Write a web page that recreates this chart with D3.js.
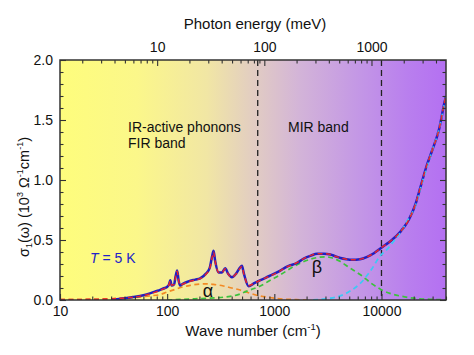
<!DOCTYPE html>
<html><head><meta charset="utf-8">
<script src="https://cdn.jsdelivr.net/npm/d3@7"></script>
<style>
html,body{margin:0;padding:0;background:#fff;}
svg text{font-family:"Liberation Sans",Arial,sans-serif;}
</style></head>
<body>
<svg id="chart" width="474" height="355"></svg>
<script>
// ---- data ----
const wnMeasured = [30,40,48,60,69,80,86,95,100,104,107,110,116,120,124,128,132,140,158,183,203,230,250,262,271,280,302,325,348,370,402,440,470,498,520,575,650,741,900,1138,1260,1413,1600,1880,2200,2506,2900,3336,3700,4140,4700,5320,6300,7350,8500,9770,10900,12500,15060,18000,20800,23100,26000,29800,34400,38800,40000];
const sigmaMeasured = [0.0,0.015,0.025,0.04,0.055,0.075,0.085,0.1,0.11,0.13,0.165,0.12,0.13,0.2,0.245,0.16,0.12,0.135,0.155,0.17,0.18,0.22,0.27,0.36,0.41,0.33,0.23,0.23,0.265,0.22,0.19,0.22,0.26,0.285,0.22,0.115,0.14,0.165,0.2,0.245,0.27,0.29,0.305,0.345,0.37,0.385,0.385,0.38,0.365,0.35,0.34,0.335,0.34,0.36,0.39,0.43,0.46,0.5,0.57,0.67,0.8,0.94,1.1,1.25,1.42,1.65,1.7];
const wnFit = [10,20,30,40,48,60,69,80,86,95,100,104,107,110,116,120,124,128,132,140,158,183,203,230,250,262,271,280,302,325,348,370,402,440,470,498,520,575,650,741,900,1138,1260,1413,1600,1880,2200,2506,2900,3336,3700,4140,4700,5320,6300,7350,8500,9770,10900,12500,15060,18000,20800,23100,26000,29800,34400,38800,40000];
const sigmaFit = [0.004,0.006,0.01,0.017,0.024,0.038,0.052,0.07,0.082,0.097,0.108,0.128,0.16,0.122,0.13,0.195,0.24,0.16,0.122,0.133,0.152,0.168,0.178,0.215,0.265,0.35,0.4,0.325,0.23,0.228,0.26,0.218,0.19,0.218,0.255,0.28,0.215,0.118,0.14,0.165,0.198,0.243,0.268,0.288,0.308,0.345,0.372,0.385,0.386,0.38,0.365,0.35,0.34,0.335,0.34,0.36,0.39,0.43,0.46,0.5,0.57,0.67,0.8,0.94,1.1,1.25,1.42,1.65,1.7];
const wnAlpha = [10,20,30,48,70,86,99,120,142,164,200,230,270,335,400,480,533,600,685,800,1000,1210,1600,2000];
const sigmaAlpha = [0.003,0.005,0.01,0.02,0.035,0.045,0.065,0.09,0.11,0.122,0.133,0.135,0.13,0.117,0.1,0.083,0.07,0.055,0.04,0.028,0.015,0.008,0.003,0.0];
const wnBeta = [100,164,250,388,480,533,600,741,900,1138,1520,2170,3000,3500,4140,5000,6370,8000,9770,12000,15000,20000,30000,40000];
const sigmaBeta = [0.0,0.008,0.016,0.03,0.05,0.068,0.085,0.117,0.16,0.21,0.28,0.34,0.36,0.35,0.32,0.27,0.21,0.14,0.09,0.055,0.033,0.015,0.005,0.002];
const wnInterband = [2300,3000,4000,5000,6370,8000,9770,11500,13000,15000,17400,20800,23100,26000,29800,34400,38800,40000];
const sigmaInterband = [0.0,0.01,0.03,0.07,0.14,0.25,0.37,0.43,0.49,0.56,0.66,0.79,0.93,1.08,1.25,1.42,1.64,1.69];
const bottomTicks = [10,100,1000,10000];
const topTicks = [10,100,1000];
const yTicks = [0.0,0.5,1.0,1.5,2.0];
const dividerLines = [700,10000];
const CM_PER_MEV = 8.0655;

// ---- layout ----
const L=60, R=446, T=60, B=300;
const svg = d3.select("#chart");
const x = d3.scaleLog().domain([10,40000]).range([L,R]);
const xTop = d3.scaleLog().domain([10/CM_PER_MEV,40000/CM_PER_MEV]).range([L,R]);
const y = d3.scaleLinear().domain([0,2]).range([B,T]);

const defs = svg.append("defs");
const grad = defs.append("linearGradient").attr("id","bg").attr("x1","0").attr("x2","1").attr("y1","0").attr("y2","0");
[[0,"#fefd7c"],[0.2,"#fbf78a"],[0.38,"#f1e6a4"],[0.5,"#e2cdc2"],[0.62,"#d3b4d8"],[0.78,"#c396e6"],[0.9,"#b97fee"],[1,"#b470f2"]]
 .forEach(([o,c])=>grad.append("stop").attr("offset",o).attr("stop-color",c));
defs.append("clipPath").attr("id","clip").append("rect").attr("x",L).attr("y",T).attr("width",R-L).attr("height",B-T);

svg.append("rect").attr("x",L).attr("y",T).attr("width",R-L).attr("height",B-T).attr("fill","url(#bg)");

// divider lines
svg.selectAll(".div").data(dividerLines).enter().append("line")
  .attr("x1",d=>x(d)).attr("x2",d=>x(d)).attr("y1",T).attr("y2",B)
  .attr("stroke","#222").attr("stroke-width",1.3).attr("stroke-dasharray","6,4");

const line = d3.line().x(d=>x(d[0])).y(d=>y(d[1])).curve(d3.curveMonotoneX);
const g = svg.append("g").attr("clip-path","url(#clip)");
function draw(wn, s, color, w, dash){
  g.append("path").datum(wn.map((v,i)=>[v,s[i]])).attr("d",line)
   .attr("fill","none").attr("stroke",color).attr("stroke-width",w)
   .attr("stroke-dasharray",dash||null).attr("stroke-linejoin","round");
}
draw(wnAlpha,sigmaAlpha,"#f28a24",1.7,"5,3.5");
draw(wnBeta,sigmaBeta,"#3cc23c",1.7,"5,3.5");
draw(wnMeasured,sigmaMeasured,"#1f1fc4",2.5);
draw(wnInterband,sigmaInterband,"#3ec8f4",1.8,"5,3.5");
draw(wnFit,sigmaFit,"#e8242a",1.5,"5,3.5");

// ---- axes ----
const fmtInt = d3.format("d");
function logMinor(dom){
  const out=[];
  for(let e=-1;e<6;e++){for(let m=1;m<10;m++){const v=m*Math.pow(10,e); if(v>=dom[0]&&v<=dom[1]) out.push(v);}}
  return out;
}
const bottomAll = logMinor([10,40000]);
const axB = d3.axisBottom(x).tickValues(bottomAll).tickSizeInner(0).tickSizeOuter(0).tickPadding(6)
  .tickFormat(d=>bottomTicks.includes(d)?fmtInt(d):"");
const gB = svg.append("g").attr("transform",`translate(0,${B})`).call(axB);
gB.selectAll(".tick line").attr("y2",d=>bottomTicks.includes(d)?-6:-3.5);

const topAll = logMinor(xTop.domain());
const axT = d3.axisTop(xTop).tickValues(topAll).tickSizeInner(0).tickSizeOuter(0).tickPadding(8)
  .tickFormat(d=>topTicks.includes(d)?fmtInt(d):"");
const gT = svg.append("g").attr("transform",`translate(0,${T})`).call(axT);
gT.selectAll(".tick line").attr("y2",d=>topTicks.includes(d)?6:3.5);

const yMinor = d3.range(0,2.0001,0.1).map(v=>+v.toFixed(1));
const axL = d3.axisLeft(y).tickValues(yMinor).tickSizeInner(0).tickSizeOuter(0).tickPadding(7)
  .tickFormat(d=>yTicks.includes(d)?d3.format(".1f")(d):"");
const gL = svg.append("g").attr("transform",`translate(${L},0)`).call(axL);
gL.selectAll(".tick line").attr("x2",d=>yTicks.includes(d)?6:3.5);
const axR = d3.axisRight(y).tickValues(yMinor).tickSizeInner(0).tickSizeOuter(0).tickFormat("");
const gR = svg.append("g").attr("transform",`translate(${R},0)`).call(axR);
gR.selectAll(".tick line").attr("x2",d=>yTicks.includes(d)?-6:-3.5);

[gB,gT,gL,gR].forEach(a=>{
  a.select(".domain").remove();
  a.selectAll(".tick line").attr("stroke","#333").attr("stroke-width",1.1);
  a.selectAll("text").attr("font-size",14).attr("fill","#111").attr("font-family","'Liberation Sans',Arial,sans-serif");
});
svg.append("rect").attr("x",L).attr("y",T).attr("width",R-L).attr("height",B-T)
  .attr("fill","none").attr("stroke","#333").attr("stroke-width",1.5);

// ---- titles ----
svg.append("text").attr("x",255).attr("y",29).attr("text-anchor","middle").attr("font-size",15).attr("fill","#111").text("Photon energy (meV)");
const xt = svg.append("text").attr("x",253).attr("y",336).attr("text-anchor","middle").attr("font-size",15).attr("fill","#111");
xt.append("tspan").text("Wave number (cm");
xt.append("tspan").attr("font-size",9.5).attr("dy",-6).text("-1");
xt.append("tspan").attr("dy",6).text(")");

const yt = svg.append("text").attr("transform","translate(29,197) rotate(-90)").attr("text-anchor","middle").attr("font-size",14.5).attr("fill","#111");
yt.append("tspan").text("σ");
yt.append("tspan").attr("font-size",9).attr("dy",3).text("1");
yt.append("tspan").attr("dy",-3).text("(ω) (10");
yt.append("tspan").attr("font-size",9).attr("dy",-6).text("3");
yt.append("tspan").attr("dy",6).text(" Ω");
yt.append("tspan").attr("font-size",9).attr("dy",-6).text("-1");
yt.append("tspan").attr("dy",6).text("cm");
yt.append("tspan").attr("font-size",9).attr("dy",-6).text("-1");
yt.append("tspan").attr("dy",6).text(")");

// ---- annotations ----
const ann = (t,xx,yy,opt={})=>svg.append("text").attr("x",xx).attr("y",yy).attr("font-size",opt.size||14)
  .attr("fill",opt.color||"#111").attr("text-anchor",opt.anchor||"start").text(t);
ann("IR-active phonons",128,132);
ann("FIR band",128,148);
ann("MIR band",288,132);
const tk = svg.append("text").attr("x",90).attr("y",263).attr("font-size",14).attr("fill","#2222c8");
tk.append("tspan").attr("font-style","italic").text("T");
tk.append("tspan").text(" = 5 K");
ann("α",208,297,{size:18,anchor:"middle"});
ann("β",317,273,{size:18,anchor:"middle"});
</script>
</body></html>
